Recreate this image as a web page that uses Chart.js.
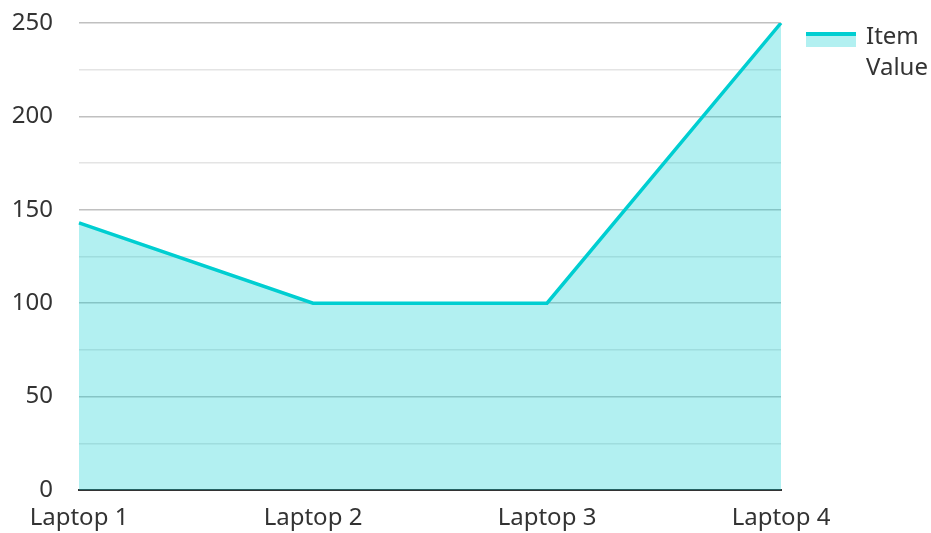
<!DOCTYPE html>
<html>
<head>
<meta charset="utf-8">
<script src="https://cdn.jsdelivr.net/npm/chart.js@4"></script>
<style>
    html, body { margin: 0; padding: 0; background: #fff; }
    #wrap { width: 931px; height: 533px; }
</style>
</head>
<body>
<div id="wrap"><canvas id="chart" width="931" height="533"></canvas></div>
<script>
// Chart data
const categories = ['Laptop 1', 'Laptop 2', 'Laptop 3', 'Laptop 4'];
const itemValues = [143, 100, 100, 250];
const seriesName = 'Item Value';
const legendLines = ['Item', 'Value'];

const lineColor = 'rgb(0, 206, 209)';
const fillColor = 'rgba(0, 206, 209, 0.3)';
const fontFamily = '"Noto Sans", "Open Sans", sans-serif';

// Draws the legend on the right (line on top of a filled box, wrapped text)
const sideLegend = {
    id: 'sideLegend',
    afterDraw(chart) {
        const ctx = chart.ctx;
        ctx.save();
        ctx.fillStyle = fillColor;
        ctx.fillRect(806, 32, 50, 15);
        ctx.fillStyle = lineColor;
        ctx.fillRect(806, 32, 50, 4);
        ctx.fillStyle = '#333333';
        ctx.font = '24px ' + fontFamily;
        ctx.textBaseline = 'middle';
        ctx.textAlign = 'left';
        legendLines.forEach((line, i) => {
            ctx.fillText(line, 866, 37 + i * 31);
        });
        ctx.restore();
    }
};

new Chart(document.getElementById('chart'), {
    type: 'line',
    data: {
        labels: categories,
        datasets: [{
            label: seriesName,
            data: itemValues,
            borderColor: lineColor,
            backgroundColor: fillColor,
            borderWidth: 3.5,
            pointRadius: 0,
            tension: 0,
            fill: 'origin'
        }]
    },
    options: {
        responsive: false,
        animation: false,
        layout: {
            padding: { top: 23, right: 150, left: 0, bottom: 0 }
        },
        plugins: {
            legend: { display: false },
            tooltip: { enabled: false }
        },
        scales: {
            x: {
                offset: false,
                grid: { display: false, drawTicks: false },
                border: { display: true, color: '#333333', width: 2 },
                ticks: {
                    color: '#333333',
                    font: { family: fontFamily, size: 24 },
                    padding: 14,
                    maxRotation: 0,
                    autoSkip: false
                },
                afterFit(scale) { scale.height = 43; }
            },
            y: {
                min: 0,
                max: 250,
                border: { display: false },
                grid: {
                    drawTicks: false,
                    color: (c) => (c.tick && c.tick.value % 50 === 0) ? '#c0c0c0' : '#e4e4e4',
                    lineWidth: 1.5
                },
                ticks: {
                    stepSize: 25,
                    color: '#333333',
                    font: { family: fontFamily, size: 24 },
                    padding: 26,
                    callback: (v) => (v % 50 === 0 ? v : '')
                },
                afterFit(scale) {
                    scale.width = 79;
                    scale.paddingTop = 0;
                    scale.paddingBottom = 0;
                }
            }
        }
    },
    plugins: [sideLegend]
});
</script>
</body>
</html>
